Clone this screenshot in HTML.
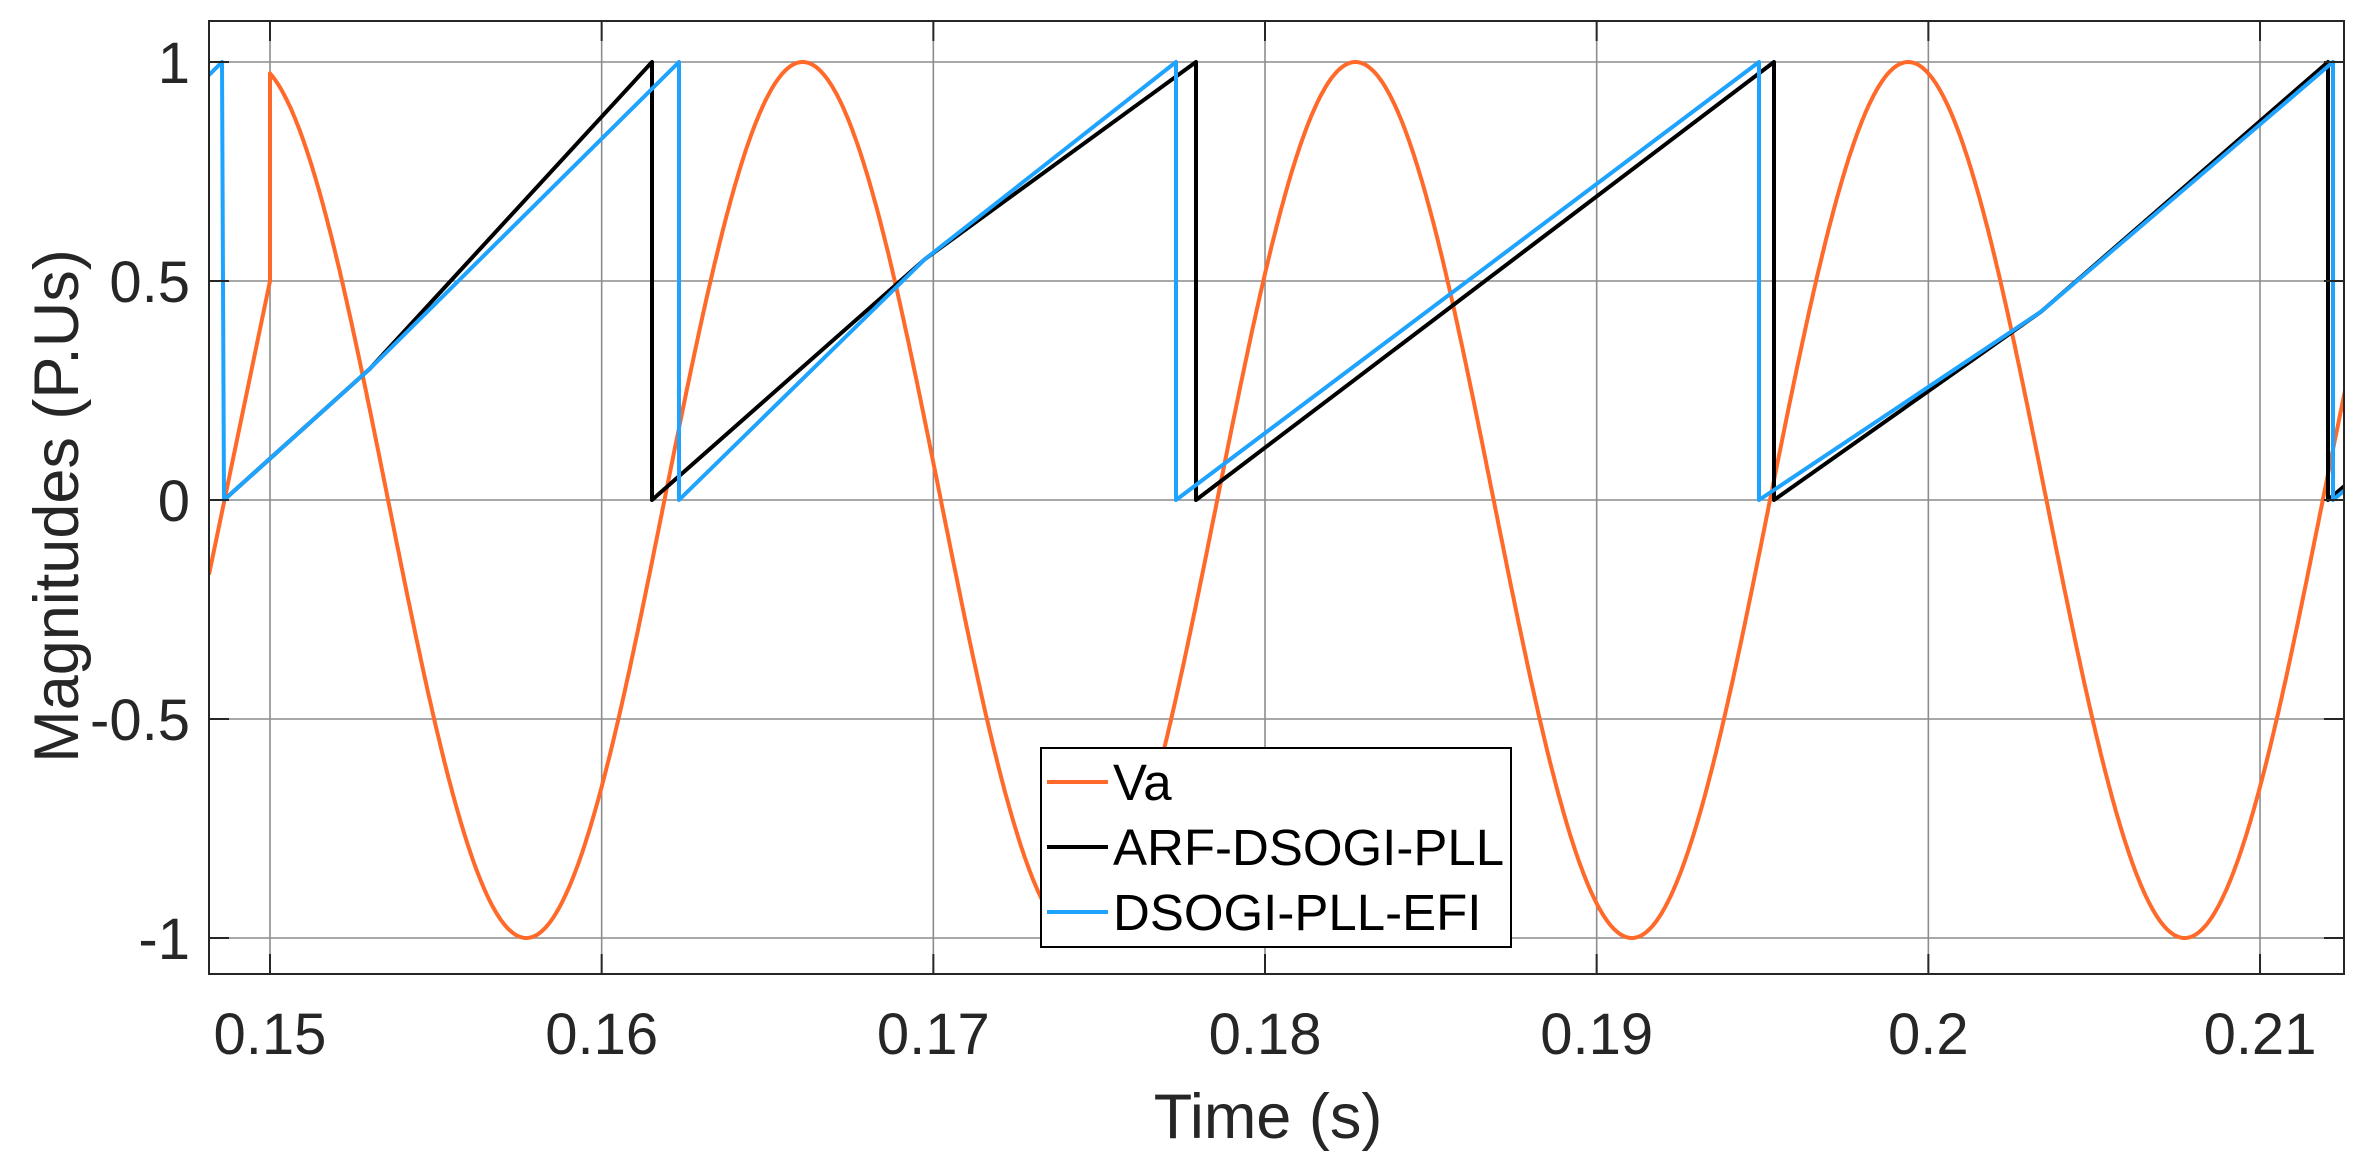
<!DOCTYPE html>
<html><head><meta charset="utf-8"><style>
body{margin:0;background:#fff;}
svg{display:block;font-family:"Liberation Sans",Arial,sans-serif;}
</style></head><body>
<svg id="s" width="2362" height="1162" viewBox="0 0 2362 1162" xmlns="http://www.w3.org/2000/svg">
<rect width="2362" height="1162" fill="#fff"/>
<defs><clipPath id="c"><rect x="209" y="21" width="2135" height="953"/></clipPath></defs>
<g id="grid" stroke="#8c8c8c" stroke-width="1.6"></g>
<g clip-path="url(#c)" fill="none" stroke-width="4" stroke-linejoin="round">
<path id="va" stroke="#ff6a2a"/>
<path id="bk" stroke="#000"/>
<path id="bl" stroke="#1ea3ff"/>
</g>
<rect x="209" y="21" width="2135" height="953" fill="none" stroke="#262626" stroke-width="2"/>
<g id="ticks" stroke="#262626" stroke-width="2"></g>
<g id="lab" fill="#262626" font-size="58"></g>
<text x="1268" y="1138" font-size="63" fill="#262626" text-anchor="middle">Time (s)</text>
<text transform="translate(78,506) rotate(-90)" font-size="63" fill="#262626" text-anchor="middle">Magnitudes (P.Us)</text>
<rect x="1041" y="748" width="470" height="199" fill="#fff" stroke="#000" stroke-width="2"/>
<line x1="1047" y1="782" x2="1108" y2="782" stroke="#ff6a2a" stroke-width="4"/>
<line x1="1047" y1="847" x2="1108" y2="847" stroke="#000" stroke-width="4"/>
<line x1="1047" y1="912" x2="1108" y2="912" stroke="#1ea3ff" stroke-width="4"/>
<g font-size="51" fill="#000">
<text x="1113" y="800">Va</text>
<text x="1113" y="865">ARF-DSOGI-PLL</text>
<text x="1113" y="930">DSOGI-PLL-EFI</text>
</g>
</svg>
<script>
const X=t=>270+(t-0.15)*33167, Y=v=>500-438*v;
const g=document.getElementById('grid'),tk=document.getElementById('ticks'),lb=document.getElementById('lab');
const NS='http://www.w3.org/2000/svg';
function el(p,n,a,txt){const e=document.createElementNS(NS,n);for(const k in a)e.setAttribute(k,a[k]);if(txt)e.textContent=txt;p.appendChild(e);}
const xt=[0.15,0.16,0.17,0.18,0.19,0.2,0.21],xl=['0.15','0.16','0.17','0.18','0.19','0.2','0.21'];
xt.forEach((t,i)=>{const x=X(t);el(g,'line',{x1:x,y1:21,x2:x,y2:974});
el(tk,'line',{x1:x,y1:974,x2:x,y2:954});el(tk,'line',{x1:x,y1:21,x2:x,y2:41});
el(lb,'text',{x:x,y:1054,'text-anchor':'middle'},xl[i]);});
[[1,'1'],[0.5,'0.5'],[0,'0'],[-0.5,'-0.5'],[-1,'-1']].forEach(([v,s])=>{const y=Y(v);
el(g,'line',{x1:209,y1:y,x2:2344,y2:y});el(tk,'line',{x1:209,y1:y,x2:229,y2:y});el(tk,'line',{x1:2344,y1:y,x2:2324,y2:y});
el(lb,'text',{x:190,y:y+21,'text-anchor':'end'},s);});
let d='M209,'+Y(-0.17)+' L270,'+Y(0.5);
for(let t=0.15;t<=0.2127;t+=0.00005){d+=' L'+X(t).toFixed(1)+','+Y(Math.cos(2*Math.PI*60*(t-0.16606))).toFixed(1);}
document.getElementById('va').setAttribute('d',d);
function P(pts){return pts.map((p,i)=>(i?'L':'M')+p[0]+','+Y(p[1]).toFixed(1)).join(' ');}
document.getElementById('bk').setAttribute('d',P([[224,0],[370,0.30],[652,1],[652,0],[925,0.55],[1196,1],[1196,0],[1774,1],[1774,0],[2041,0.43],[2328,1],[2328,0],[2346,0.035]]));
document.getElementById('bl').setAttribute('d',P([[209,0.97],[222,1],[224,0],[370,0.30],[679,1],[679,0],[925,0.55],[1176,1],[1176,0],[1759,1],[1759,0],[2041,0.43],[2333,1],[2333,0],[2346,0.025]]));
</script>
</body></html>
